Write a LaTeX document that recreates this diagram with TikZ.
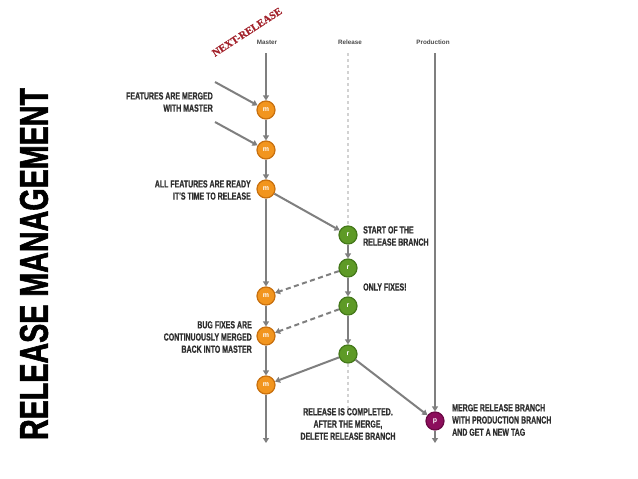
\documentclass[tikz,border=0pt]{standalone}
\usepackage{fontspec}
\setmainfont{Liberation Sans}
\newfontfamily\cond[FakeStretch=0.68,FakeBold=0.6]{Liberation Sans Bold}
\newfontfamily\titlefont[FakeStretch=0.6,FakeBold=1.2]{Liberation Sans Bold}
\newfontfamily\stampfont[FakeBold=0.8]{Liberation Serif Bold}
\newfontfamily\headfont{Liberation Sans Bold}
\usetikzlibrary{arrows.meta}
\definecolor{edgegray}{HTML}{7F7F7F}
\definecolor{relgray}{HTML}{D2D2D2}
\definecolor{morange}{HTML}{F2951E}
\definecolor{morangeb}{HTML}{C8700E}
\definecolor{rgreen}{HTML}{5E9A26}
\definecolor{rgreenb}{HTML}{44781A}
\definecolor{ppurple}{HTML}{8C0E5C}
\definecolor{ppurpleb}{HTML}{6A0844}
\definecolor{stampred}{HTML}{A3222B}
\definecolor{txt}{HTML}{2E2E2E}
\definecolor{hdr}{HTML}{4A4A4A}
\tikzset{
  commit/.style={circle, minimum size=18pt, inner sep=0pt, line width=1.2pt,
    text=white, font=\headfont\fontsize{7}{7}\selectfont},
  mnode/.style={commit, fill=morange, draw=morangeb},
  rnode/.style={commit, fill=rgreen, draw=rgreenb},
  pnode/.style={commit, fill=ppurple, draw=ppurpleb},
  flow/.style={draw=edgegray, line width=2pt, -{Triangle[width=6pt,length=5pt]}},
  fixflow/.style={flow, dash pattern=on 5pt off 3.5pt},
  relline/.style={draw=relgray, line width=1.6pt, dash pattern=on 3pt off 3pt},
  lbl/.style={text=txt, inner sep=0pt, font=\cond\fontsize{10.3}{12.2}\selectfont},
  head/.style={text=hdr, inner sep=0pt, font=\headfont\fontsize{6.3}{6.3}\selectfont}
}
\begin{document}
\begin{tikzpicture}[x=1pt,y=-1pt]
\useasboundingbox[fill=white] (0,0) rectangle (638,479);

% title
\node[rotate=90, inner sep=0pt] (title) at (34,264)
  {\resizebox{352pt}{28pt}{\titlefont RELEASE MANAGEMENT}};

% headers
\node[head] (hm) at (267,42) {Master};
\node[head] (hr) at (350,42) {Release};
\node[head] (hp) at (433,42) {Production};

% stamp
\node[rotate=33, text=stampred, inner sep=0pt,
  font=\stampfont\fontsize{10.5}{10.5}\selectfont] (stamp) at (247,32) {NEXT-RELEASE};

% coordinates
\coordinate (mtop) at (266,53);
\coordinate (mend) at (266,443);
\coordinate (rtop) at (348,53);
\coordinate (rend) at (348,410);
\coordinate (ptop) at (435,53);
\coordinate (pend) at (435,443);
\coordinate (f1) at (215,82);
\coordinate (f2) at (215,122);

% commits
\node[mnode] (m1) at (266,110) {m};
\node[mnode] (m2) at (266,150) {m};
\node[mnode] (m3) at (266,189) {m};
\node[mnode] (m4) at (266,296) {m};
\node[mnode] (m5) at (266,336) {m};
\node[mnode] (m6) at (266,385) {m};
\node[rnode] (r1) at (348,235) {r};
\node[rnode] (r2) at (348,268) {r};
\node[rnode] (r3) at (348,306) {r};
\node[rnode] (r4) at (348,354) {r};
\node[pnode] (p) at (435,421) {p};

% release branch (light dashed)
\draw[relline] (rtop) -- (r1);
\draw[relline] (r4) -- (rend);

% master line
\draw[flow] (mtop) -- (m1);
\draw[flow] (m1) -- (m2);
\draw[flow] (m2) -- (m3);
\draw[flow] (m3) -- (m4);
\draw[flow] (m4) -- (m5);
\draw[flow] (m5) -- (m6);
\draw[flow] (m6) -- (mend);

% features
\draw[flow] (f1) -- (m1);
\draw[flow] (f2) -- (m2);

% release
\draw[flow] (m3) -- (r1);
\draw[flow] (r1) -- (r2);
\draw[flow] (r2) -- (r3);
\draw[flow] (r3) -- (r4);
\draw[fixflow] (r2) -- (m4);
\draw[fixflow] (r3) -- (m5);
\draw[flow] (r4) -- (m6);
\draw[flow] (r4) -- (p);

% production
\draw[flow] (ptop) -- (p);
\draw[flow] (p) -- (pend);

% labels
\node[lbl, align=right, anchor=east] (l1) at (213,102) {FEATURES ARE MERGED\\WITH MASTER};
\node[lbl, align=right, anchor=east] (l2) at (251,190) {ALL FEATURES ARE READY\\IT'S TIME TO RELEASE};
\node[lbl, align=left, anchor=west] (l3) at (363,236) {START OF THE\\RELEASE BRANCH};
\node[lbl, align=left, anchor=west] (l4) at (363,287) {ONLY FIXES!};
\node[lbl, align=right, anchor=east] (l5) at (252,337) {BUG FIXES ARE\\CONTINUOUSLY MERGED\\BACK INTO MASTER};
\node[lbl, align=center] (l6) at (348,424) {RELEASE IS COMPLETED.\\AFTER THE MERGE,\\DELETE RELEASE BRANCH};
\node[lbl, align=left, anchor=west] (l7) at (452,420) {MERGE RELEASE BRANCH\\WITH PRODUCTION BRANCH\\AND GET A NEW TAG};
\end{tikzpicture}
\end{document}
